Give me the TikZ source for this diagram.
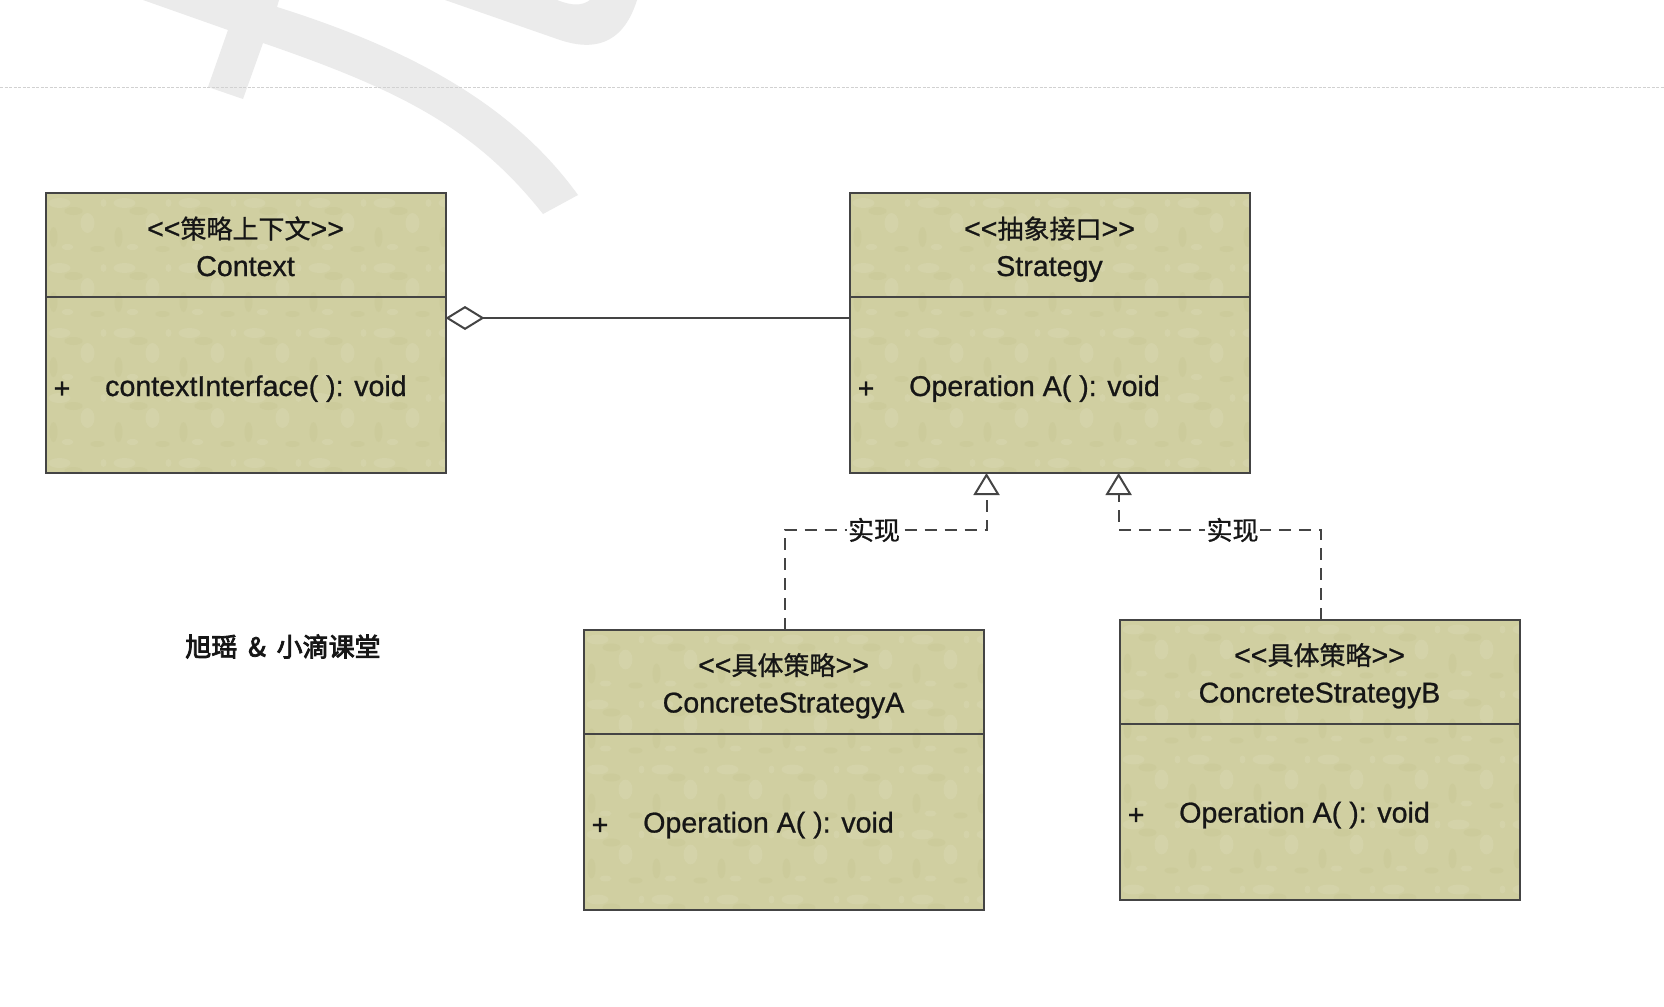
\documentclass[tikz,border=0pt]{standalone}
\usepackage{fontspec}
\setmainfont{Liberation Sans}[FakeBold=0.8,Ligatures=NoCommon]
\newfontfamily\cjkf{Noto Sans CJK SC}[FakeBold=0.8]
\newfontfamily\creditf{Noto Sans CJK SC}[FakeBold=3]
\usetikzlibrary{arrows.meta,shapes.geometric}
\definecolor{boxfill}{HTML}{D0CFA1}
\definecolor{boxlight}{HTML}{D4D3A9}
\definecolor{boxdark}{HTML}{CCCB9B}
\definecolor{boxline}{HTML}{444444}
\definecolor{mark}{HTML}{EBEBEB}
\definecolor{ink}{HTML}{161616}
\newcommand{\zh}[1]{{\cjkf\fontsize{26}{30}\selectfont #1}}
\newcommand{\boxtexture}[1]{%
  \begin{scope}
    \clip (#1.north west) rectangle (#1.south east);
    \path (#1.north west) coordinate (tx0);
    \foreach \i in {0,...,6}{\foreach \j in {0,...,4}{
      \begin{scope}[shift={(tx0)},xshift=\i*65pt,yshift=-\j*65pt]
        \fill[boxlight] (14,10) ellipse (11pt and 5pt);
        \fill[boxlight] (42,30) ellipse (7pt and 10pt);
        \fill[boxdark] (28,18) ellipse (9pt and 4pt);
        \fill[boxdark] (8,44) ellipse (4pt and 10pt);
        \fill[boxlight] (22,54) ellipse (6pt and 3pt);
        \fill[boxdark] (52,56) ellipse (7pt and 3pt);
        \fill[boxlight] (58,10) ellipse (3pt and 4pt);
      \end{scope}
    }}
  \end{scope}
}
\tikzset{
  classbox/.style={draw=boxline,line width=2pt,fill=boxfill,minimum width=400pt,minimum height=280pt,inner sep=0pt,outer sep=0pt,anchor=north west},
  classedge/.style={draw=boxline,line width=2pt},
  divline/.style={draw=boxline,line width=2pt},
  headtext/.style={text=ink,font=\fontsize{28.6}{30}\selectfont,inner sep=0pt,anchor=base},
  membertext/.style={text=ink,font=\fontsize{28.6}{30}\selectfont,inner sep=0pt,anchor=base west},
  conn/.style={draw=boxline,line width=2pt},
  realize/.style={conn,dash pattern=on 12pt off 8pt,-{Triangle[open,length=22pt,width=26pt,fill=white]}},
  connlabel/.style={text=ink,fill=white,inner sep=1.5pt,font=\cjkf\fontsize{26}{30}\selectfont},
  wm/.style={fill=mark,draw=none}
}
\begin{document}
\begin{tikzpicture}[x=1pt,y=-1pt]
\useasboundingbox[fill=white] (0,0) rectangle (1664,1006);
% watermark
\fill[wm] (143,0) -- (228,30) -- (208,87) -- (243,99) -- (263,43)
  .. controls (400,90) and (475,128) .. (543,214) -- (578,195)
  .. controls (520,115) and (430,55) .. (277,7) -- (279,0) -- cycle;
\fill[wm] (445,0) -- (560,40) .. controls (590,50) and (622,48) .. (637,0) -- (590,0)
  .. controls (582,6) and (572,6) .. (557,0) -- cycle;
\draw[black!18,line width=.7pt,dash pattern=on 3pt off 1.5pt] (0,87.5) -- (1664,87.5);
% classes
\node[classbox] (context) at (45.5,193) {};
\node[classbox] (strategy) at (849.5,193) {};
\node[classbox] (concreteA) at (583.5,629.5) {};
\node[classbox] (concreteB) at (1119.5,619.5) {};
\boxtexture{context}
\boxtexture{strategy}
\boxtexture{concreteA}
\boxtexture{concreteB}
\draw[classedge] (context.north west) rectangle (context.south east);
\draw[classedge] (strategy.north west) rectangle (strategy.south east);
\draw[classedge] (concreteA.north west) rectangle (concreteA.south east);
\draw[classedge] (concreteB.north west) rectangle (concreteB.south east);
\coordinate (ctxDivL) at (45.5,297); \coordinate (ctxDivR) at (445.5,297);
\coordinate (strDivL) at (849.5,297); \coordinate (strDivR) at (1249.5,297);
\coordinate (aDivL) at (583.5,733.5); \coordinate (aDivR) at (983.5,733.5);
\coordinate (bDivL) at (1119.5,723.5); \coordinate (bDivR) at (1519.5,723.5);
\draw[divline] (ctxDivL) -- (ctxDivR);
\draw[divline] (strDivL) -- (strDivR);
\draw[divline] (aDivL) -- (aDivR);
\draw[divline] (bDivL) -- (bDivR);
% heads
\node[headtext] (ctxStereo) at (245.5,238.5) {<{}<\zh{策略上下文}>{}>};
\node[headtext] (ctxName) at (245.5,276) {Context};
\node[headtext] (strStereo) at (1049.5,238.5) {<{}<\zh{抽象接口}>{}>};
\node[headtext] (strName) at (1049.5,276) {Strategy};
\node[headtext] (aStereo) at (783.5,675) {<{}<\zh{具体策略}>{}>};
\node[headtext] (aName) at (783.5,712.5) {ConcreteStrategyA};
\node[headtext] (bStereo) at (1319.5,665) {<{}<\zh{具体策略}>{}>};
\node[headtext] (bName) at (1319.5,702.5) {ConcreteStrategyB};
% members
\node[membertext] (ctxPlus) at (53.5,398) {+};
\node[membertext] (ctxOp) at (105,396) {contextInterface( ): void};
\node[membertext] (strPlus) at (857.5,398) {+};
\node[membertext] (strOp) at (909,396) {Operation A( ): void};
\node[membertext] (aPlus) at (591.5,834.5) {+};
\node[membertext] (aOp) at (643,832.5) {Operation A( ): void};
\node[membertext] (bPlus) at (1127.5,824.5) {+};
\node[membertext] (bOp) at (1179,822.5) {Operation A( ): void};
% free text
\node[text=ink,inner sep=0pt,font=\creditf\fontsize{26}{30}\selectfont] (credit) at (283,646.5) {旭瑶\hspace{5pt} \&\hspace{5pt} 小滴课堂};
% connectors
\coordinate (ctxPort) at (445.5,318);
\coordinate (strPort) at (849.5,318);
\coordinate (strInA) at (986.5,473);
\coordinate (strInB) at (1118.6,473);
\coordinate (aPort) at (784.5,629.5);
\coordinate (bPort) at (1320.7,619.5);
\coordinate (aBend) at (784.5,529.5);
\coordinate (bBend) at (1320.7,529.5);
\draw[conn,{Diamond[open,length=39pt,width=24pt,fill=white]}-] (ctxPort) -- (strPort);
\draw[realize] (aPort) -- (aBend) -| (strInA);
\draw[realize] (bPort) -- (bBend) -| (strInB);
\node[connlabel] (labA) at (874,530) {实现};
\node[connlabel] (labB) at (1232.5,530) {实现};
\end{tikzpicture}
\end{document}
